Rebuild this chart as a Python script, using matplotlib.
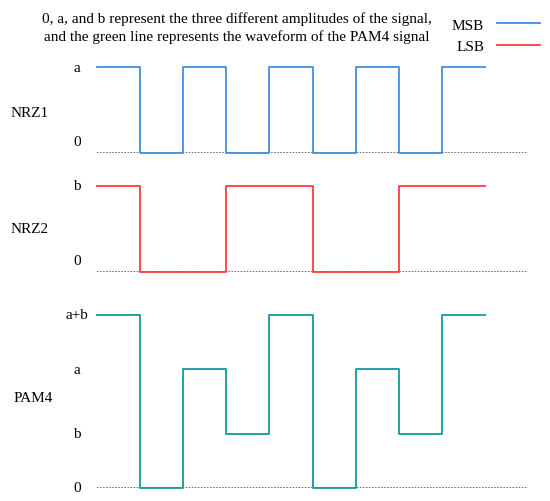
import matplotlib
matplotlib.use("Agg")
import matplotlib.pyplot as plt
import numpy as np

plt.rcParams['font.family'] = ['Liberation Serif', 'DejaVu Serif']

# bits / levels per symbol
msb_bits = [1, 0, 1, 0, 1, 0, 1, 0, 1]
lsb_bits = [1, 0, 0, 1, 1, 0, 0, 1, 1]
amp_a = 2.2
amp_b = 1.0
pam4_levels = [amp_a + amp_b, 0, amp_a, amp_b, amp_a + amp_b, 0, amp_a, amp_b, amp_a + amp_b]

nrz1_ticks = ["0", "a"]
nrz2_ticks = ["0", "b"]
pam4_ticks = ["0", "b", "a", "a+b"]

title = ("0, a, and b represent the three different amplitudes of the signal,\n"
         "and the green line represents the waveform of the PAM4 signal")

c_msb = '#3f8fe0'
c_lsb = '#ff3b3b'
c_pam = '#14999a'

W, H = 550, 502
fig = plt.figure(figsize=(W / 100, H / 100), dpi=100)

def px_axes(x0, x1, y_top, y_bot):
    return fig.add_axes([x0 / W, 1 - y_bot / H, (x1 - x0) / W, (y_bot - y_top) / H])

fs = 11

def draw(ax, vals, color, ymax, name, name_xy, label=None):
    n = len(vals)
    x = np.arange(n + 1)
    y = list(vals) + [vals[-1]]
    ax.axhline(0, ls=(0, (1, 1)), color='#404040', lw=1.1, zorder=1)
    ln, = ax.step(x, y, where='post', color=color, lw=1.3, clip_on=False, zorder=3,
                  label=label)
    ax.set_xlim(0, 10)
    ax.set_ylim(0, ymax)
    ax.axis('off')
    ax.text(name_xy[0], name_xy[1], name, transform=ax.transAxes, ha='right', va='center',
            fontsize=fs)
    return ln

ax1 = px_axes(97, 528, 68, 154)
l1 = draw(ax1, msb_bits, c_msb, 1, "NRZ1", (-0.112, 0.47), "MSB")
ax1.text(-0.46, 1, nrz1_ticks[1], ha='center', va='center', fontsize=fs)
ax1.text(-0.46, 0.13, nrz1_ticks[0], ha='center', va='center', fontsize=fs)

ax2 = px_axes(97, 528, 187, 273)
l2 = draw(ax2, lsb_bits, c_lsb, 1, "NRZ2", (-0.112, 0.5), "LSB")
ax2.text(-0.46, 1, nrz2_ticks[1], ha='center', va='center', fontsize=fs)
ax2.text(-0.46, 0.13, nrz2_ticks[0], ha='center', va='center', fontsize=fs)

ax3 = px_axes(97, 528, 316, 489)
draw(ax3, pam4_levels, c_pam, amp_a + amp_b, "PAM4", (-0.102, 0.526))
for lab, v in zip(pam4_ticks, [0, amp_b, amp_a, amp_a + amp_b]):
    ax3.text(-0.46, v, lab, ha='center', va='center', fontsize=fs)

fig.text(236.5 / W, 1 - 28 / H, title, ha='center', va='center', fontsize=fs,
         linespacing=1.4, multialignment='center')

fig.legend(handles=[l1, l2], loc='upper right', bbox_to_anchor=(540 / W, 1 - 19 / H),
           frameon=False, markerfirst=False, fontsize=fs, handlelength=2.8,
           handletextpad=0.85, labelspacing=0.5, borderpad=0, borderaxespad=0)

fig.savefig("out.png", dpi=100, facecolor='white')
